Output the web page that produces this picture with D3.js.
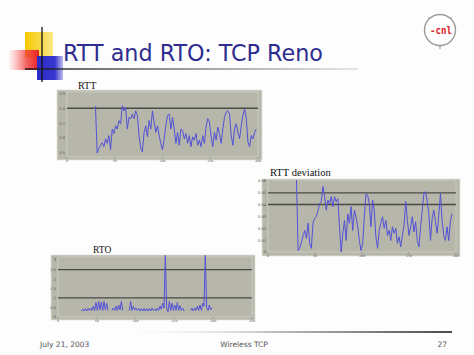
<!DOCTYPE html>
<html>
<head>
<meta charset="utf-8">
<script src="https://cdn.jsdelivr.net/npm/d3@7"></script>
<style>
body { margin: 0; background: #fdfdfd; }
svg { display: block; }
</style>
</head>
<body>
<script>
// slide texts
var slideTitle = "RTT and RTO: TCP Reno";
var footerDate = "July 21, 2003";
var footerTopic = "Wireless TCP";
var slideNumber = "27";

// series (0 = bottom axis, 100 = top of plot)
var rttValues = [78,6,13,18,22,16,28,21,33,11,
    43,36,48,43,56,51,79,71,76,43,
    61,59,66,59,71,64,33,13,8,38,
    48,31,56,43,71,54,38,48,33,21,
    11,28,48,64,66,43,61,43,21,38,
    18,43,41,28,36,21,33,16,31,26,
    36,18,26,16,33,21,46,59,54,31,
    16,38,26,46,36,21,43,61,69,71,
    66,33,18,43,51,38,28,48,64,74,
    59,23,16,33,28,38,43];

var rttDevValues = [100,2,5,14,23,30,19,40,12,5,
    40,47,49,58,67,70,91,77,58,72,
    67,77,63,77,70,74,35,0,26,44,
    16,53,40,63,30,58,49,35,16,2,
    12,49,81,79,67,35,72,58,21,5,
    30,40,49,33,44,23,30,16,35,26,
    33,12,21,7,23,37,70,44,23,35,
    49,28,42,16,7,35,58,81,84,70,
    53,16,47,58,42,26,51,81,44,23,
    16,35,16,42,53];

var rtoValues = [10,13,10,14,10,14,11,15,11,18,
    11,24,11,26,12,25,11,26,12,23,
    11,null,null,11,15,11,18,11,20,12,
    26,11,null,null,null,null,11,26,11,18,
    12,15,11,14,10,14,10,14,10,14,
    10,14,10,15,11,13,10,15,11,18,
    13,23,15,103,15,9,26,11,23,11,
    20,11,24,11,19,11,15,10,null,null,
    null,null,11,15,10,15,11,18,11,20,
    11,23,18,103,15,11,20,12,15];

// dark grid lines
var rttGrid = [75];
var rttDevGrid = [82, 66];
var rtoGrid = [79, 32];

// axis ticks (labels too small to read in the original)
var rttYTicks = [98, 75, 52, 29, 6];
var rttYLabels = ["0.9", "0.8", "0.7", "0.6", "0.5"];
var rttXLabels = ["0", "50", "100", "150", "200"];

var rttDevYTicks = [99, 82, 66, 49, 33, 16, 0];
var rttDevYLabels = ["0.06", "0.05", "0.04", "0.03", "0.02", "0.01", "0"];
var rttDevXLabels = ["0", "50", "100", "150", "200"];

var rtoYTicks = [95, 79, 63, 48, 32, 15, 0];
var rtoYLabels = ["3", "2.5", "2", "1.5", "1", "0.5", "0"];
var rtoXLabels = ["0", "50", "100", "150", "200", "250"];

var panels = [
    {label: "RTT", values: rttValues, grid: rttGrid, yTicks: rttYTicks, yLabels: rttYLabels, xLabels: rttXLabels,
     box: [57, 90, 205, 70], plot: [67, 92, 258, 157], xDomain: [-17, 97], text: [78, 88.5, 10]},
    {label: "RTT deviation", values: rttDevValues, grid: rttDevGrid, yTicks: rttDevYTicks, yLabels: rttDevYLabels, xLabels: rttDevXLabels,
     box: [262, 179, 198, 77], plot: [268, 180, 456, 252], xDomain: [-17.2, 96.4], text: [270, 175.5, 10.5]},
    {label: "RTO", values: rtoValues, grid: rtoGrid, yTicks: rtoYTicks, yLabels: rtoYLabels, xLabels: rtoXLabels,
     box: [51, 255, 204, 65], plot: [58, 257, 252, 317], xDomain: [-17.5, 128], text: [93, 253, 9.5]}
];

var width = 474, height = 355;

var svg = d3.select("body").append("svg")
    .attr("width", width)
    .attr("height", height);

var defs = svg.append("defs");

function gradient(id, stops) {
    let g = defs.append("linearGradient").attr("id", id)
        .attr("x1", 0).attr("y1", 0).attr("x2", 1).attr("y2", 0);
    stops.forEach(s => g.append("stop").attr("offset", s[0]).attr("stop-color", s[1]).attr("stop-opacity", s[2]));
}
gradient("yellowGrad", [[0, "#f6c800", 1], [1, "#fbe787", 1]]);
gradient("redGrad", [[0, "#ff6060", 0], [0.6, "#f23c3c", 0.8], [1, "#e82020", 1]]);
gradient("blueGrad", [[0, "#2a2ac8", 1], [0.7, "#3838d0", 1], [1, "#8888e0", 0.6]]);
gradient("titleLine", [[0, "#111", 1], [0.5, "#777", 1], [1, "#ddd", 1]]);
gradient("footLine", [[0, "#fff", 0], [0.5, "#999", 1], [1, "#000", 1]]);

svg.append("rect").attr("width", width).attr("height", height).attr("fill", "#fdfdfd");

// corner decoration
var deco = svg.append("g");
deco.append("rect").attr("x", 25).attr("y", 32).attr("width", 28).attr("height", 26).attr("fill", "url(#yellowGrad)");
deco.append("rect").attr("x", 8).attr("y", 50).attr("width", 31).attr("height", 20).attr("fill", "url(#redGrad)");
deco.append("rect").attr("x", 37).attr("y", 56).attr("width", 26).attr("height", 24).attr("fill", "url(#blueGrad)");
deco.append("line").attr("x1", 42).attr("x2", 42).attr("y1", 27).attr("y2", 82)
    .attr("stroke", "#111").attr("stroke-width", 1.3);
deco.append("rect").attr("x", 25).attr("y", 68.3).attr("width", 333).attr("height", 1.4).attr("fill", "url(#titleLine)");

// title
var title = svg.append("text")
    .attr("x", 63).attr("y", 61)
    .attr("font-family", "DejaVu Sans, sans-serif")
    .attr("font-size", 26)
    .attr("fill", "#2d2d8f")
    .text(slideTitle);
var tw = title.node().getComputedTextLength();
title.attr("font-size", 26 * 260 / tw);

// logo
var logo = svg.append("g").attr("transform", "translate(440,30)");
logo.append("circle").attr("r", 15.5).attr("fill", "#fff").attr("stroke", "#9a9a9a").attr("stroke-width", 1.4);
logo.append("circle").attr("cx", -11).attr("cy", -12).attr("r", 1).attr("fill", "#aaa");
logo.append("circle").attr("cx", 11).attr("cy", -12).attr("r", 1).attr("fill", "#aaa");
logo.append("line").attr("x1", 0).attr("x2", 0).attr("y1", 15.5).attr("y2", 19)
    .attr("stroke", "#999").attr("stroke-width", 1.2);
logo.append("text").attr("x", 1).attr("y", 3.5)
    .attr("text-anchor", "middle")
    .attr("font-family", "DejaVu Sans Mono, monospace")
    .attr("font-weight", "bold")
    .attr("font-size", 10)
    .attr("fill", "#e0202a")
    .attr("textLength", 22)
    .attr("lengthAdjust", "spacingAndGlyphs")
    .text("-cnl");

// panels
panels.forEach((p, k) => {
    let g = svg.append("g");
    let [bx, by, bw, bh] = p.box;
    let [px0, py0, px1, py1] = p.plot;

    g.append("text")
        .attr("x", p.text[0]).attr("y", p.text[1])
        .attr("font-family", "Liberation Serif, Times New Roman, serif")
        .attr("font-size", p.text[2])
        .attr("fill", "#111")
        .text(p.label);

    g.append("rect")
        .attr("x", bx).attr("y", by).attr("width", bw).attr("height", bh)
        .attr("fill", "#b7b6aa").attr("stroke", "#e2e2dc").attr("stroke-width", 0.8);

    let x = d3.scaleLinear().domain(p.xDomain).range([px0, px1]);
    let y = d3.scaleLinear().domain([0, 100]).range([py1, py0]);

    g.append("rect")
        .attr("x", px0).attr("y", py0).attr("width", px1 - px0).attr("height", py1 - py0)
        .attr("fill", "none").attr("stroke", "#d4d3cb").attr("stroke-width", 0.7);

    // y tick labels
    g.selectAll(".ylab").data(p.yTicks).join("text")
        .attr("x", px0 - 2).attr("y", d => y(d) + 1.3)
        .attr("text-anchor", "end")
        .attr("font-family", "DejaVu Sans, sans-serif")
        .attr("font-size", 3.6)
        .attr("fill", "#555")
        .text((d, i) => p.yLabels[i]);

    // x ticks
    let xt = d3.scaleLinear().domain([0, p.xLabels.length - 1]).range([px0, px1]);
    p.xLabels.forEach((lab, i) => {
        g.append("line").attr("x1", xt(i)).attr("x2", xt(i)).attr("y1", py1).attr("y2", py1 + 1.5)
            .attr("stroke", "#777").attr("stroke-width", 0.6);
        g.append("text").attr("x", xt(i)).attr("y", py1 + 4.5)
            .attr("text-anchor", "middle")
            .attr("font-family", "DejaVu Sans, sans-serif")
            .attr("font-size", 3.2)
            .attr("fill", "#555")
            .text(lab);
    });

    // grid lines
    g.selectAll(".grid").data(p.grid).join("line")
        .attr("x1", px0).attr("x2", px1)
        .attr("y1", d => y(d)).attr("y2", d => y(d))
        .attr("stroke", "#4a4a46").attr("stroke-width", 1.3);

    defs.append("clipPath").attr("id", "clip" + k)
        .append("rect").attr("x", bx).attr("y", by).attr("width", bw).attr("height", bh);

    let line = d3.line()
        .defined(d => d != null)
        .x((d, i) => x(i))
        .y(d => y(d));

    g.append("path")
        .datum(p.values)
        .attr("clip-path", "url(#clip" + k + ")")
        .attr("d", line)
        .attr("fill", "none")
        .attr("stroke", "#5252d8")
        .attr("stroke-width", 1);
});

// footer
svg.append("rect").attr("x", 115).attr("y", 331.3).attr("width", 337).attr("height", 1.4).attr("fill", "url(#footLine)");
var foot = svg.append("g")
    .attr("font-family", "DejaVu Sans, sans-serif")
    .attr("font-size", 7.5)
    .attr("fill", "#555");
foot.append("text").attr("x", 40).attr("y", 347).text(footerDate);
foot.append("text").attr("x", 244).attr("y", 347).attr("text-anchor", "middle").text(footerTopic);
foot.append("text").attr("x", 447).attr("y", 347).attr("text-anchor", "end").text(slideNumber);
</script>
</body>
</html>
